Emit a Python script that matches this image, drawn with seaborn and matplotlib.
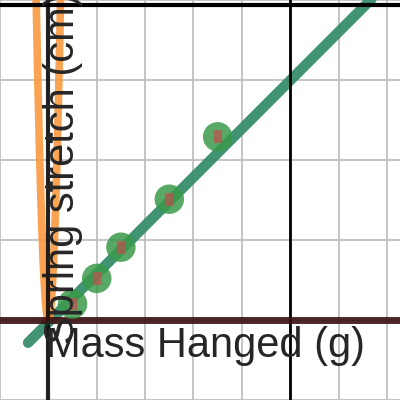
import numpy as np
import pandas as pd
import matplotlib
matplotlib.use("Agg")
import matplotlib.pyplot as plt
import seaborn as sns

mass_g = [50, 100, 150, 250, 350]
stretch_cm = [0.2, 0.52, 0.91, 1.51, 2.29]
fit_slope = 0.00605
fit_intercept = -0.03
curve_k = 0.0063
xlim = (-42, 727)
ylim = (-0.5, 3.94)

sns.set_theme(style="white")
plt.rcParams['font.family'] = ['Liberation Sans', 'DejaVu Sans']
fig = plt.figure(figsize=(4, 4), dpi=100)
ax = fig.add_axes([0, 0, 1, 1])
for s in ax.spines.values():
    s.set_visible(False)

xs = np.linspace(xlim[0], xlim[1], 200)
sns.lineplot(x=xs, y=fit_slope * xs + fit_intercept, color="#388c6c", lw=7.5, alpha=0.95, ax=ax)
xc = np.linspace(-30, 30, 300)
sns.lineplot(x=xc, y=curve_k * xc ** 2, color="#fa9a40", lw=5.5, alpha=0.9, ax=ax, sort=False)

ax.axvline(0, color="black", lw=3, alpha=0.85)
ax.axvline(500, color="black", lw=2)
ax.axhline(0, color="#3a1010", lw=5, alpha=0.9)

df = pd.DataFrame({"mass": mass_g, "stretch": stretch_cm})
sns.scatterplot(data=df, x="mass", y="stretch", s=450, color="#3a9a4a", alpha=0.85, edgecolor="none", ax=ax, zorder=5)
ax.errorbar(mass_g, stretch_cm, yerr=0.08, fmt="none", ecolor="#c0504d", elinewidth=6, alpha=0.7, zorder=6)

ax.set_xlim(*xlim)
ax.set_ylim(*ylim)
ax.set_xticks(np.arange(-100, 800, 100))
ax.set_yticks(np.arange(-1, 5, 1))
ax.grid(True, color="#bbbbbb", lw=1.2)
ax.tick_params(length=0, labelbottom=False, labelleft=False)
ax.axhline(ylim[1], color="black", lw=3)

ax.set_xlabel(""); ax.set_ylabel("")
ax.text(-5, -0.32, "Mass Hanged (g)", fontsize=30, va="center", ha="left", zorder=7)
ax.text(30, 1.9, "Spring stretch (cm)", fontsize=30, rotation=90, va="center", ha="center", zorder=7)
fig.savefig("out.png", dpi=100)
